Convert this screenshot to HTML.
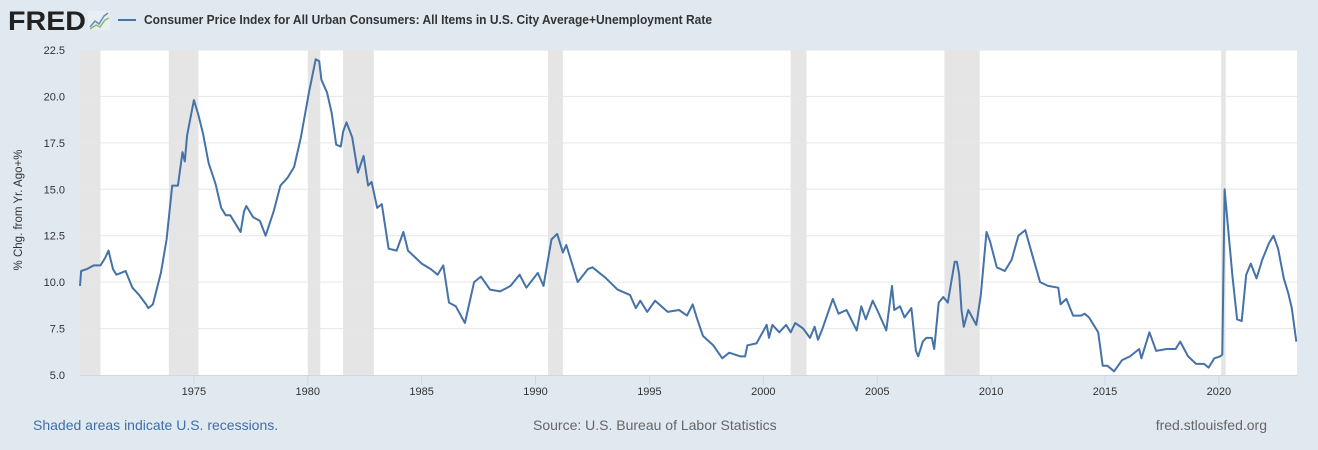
<!DOCTYPE html>
<html><head><meta charset="utf-8"><style>
html,body{margin:0;padding:0;background:#e1e9f0;}
body{width:1318px;height:450px;overflow:hidden;font-family:"Liberation Sans",Arial,sans-serif;}
</style></head><body>
<svg id="chart" width="1318" height="450" xmlns="http://www.w3.org/2000/svg" style="display:block">
  <rect width="1318" height="450" fill="#e1e9f0"/>
  <g>
    <text x="8" y="30" font-size="27" font-weight="bold" fill="#222" textLength="78" lengthAdjust="spacingAndGlyphs" font-family="Liberation Sans, sans-serif">FRED</text>
    <rect x="88" y="11" width="22" height="19" fill="#e9eef2"/>
    <polyline points="90,27 95,21 99,24 104,16 108,13" fill="none" stroke="#5b8fc7" stroke-width="1.5"/>
    <polyline points="90,29 96,25 100,27 105,20 109,18" fill="none" stroke="#8dbb6c" stroke-width="1.5"/>
  </g>
  <line x1="118" y1="20" x2="136" y2="20" stroke="#4572a7" stroke-width="2"/>
  <text x="144" y="24" font-size="12.5" fill="#333" font-weight="bold" textLength="568" lengthAdjust="spacingAndGlyphs">Consumer Price Index for All Urban Consumers: All Items in U.S. City Average+Unemployment Rate</text>
  <rect x="80" y="50" width="1217" height="325" fill="#fff"/>
  <g id="rec"></g><g id="grid"></g><g id="axes"></g><g id="series"></g>
  <text transform="translate(22,210) rotate(-90)" text-anchor="middle" font-size="11.5" fill="#333">% Chg. from Yr. Ago+%</text>
  <text x="33" y="430" font-size="14" fill="#3f6ea8">Shaded areas indicate U.S. recessions.</text>
  <text x="533" y="430" font-size="14" fill="#666">Source: U.S. Bureau of Labor Statistics</text>
  <text x="1267" y="430" font-size="14" fill="#666" text-anchor="end">fred.stlouisfed.org</text>
</svg>
<script>
const years = [1970.0,1970.05,1970.3,1970.6,1970.9,1971.1,1971.25,1971.45,1971.6,1971.8,1972.0,1972.3,1972.6,1972.9,1973.0,1973.2,1973.55,1973.8,1974.05,1974.3,1974.5,1974.6,1974.7,1975.0,1975.2,1975.4,1975.65,1975.95,1976.2,1976.4,1976.6,1977.05,1977.2,1977.3,1977.6,1977.9,1978.15,1978.5,1978.8,1979.1,1979.4,1979.7,1980.05,1980.35,1980.5,1980.6,1980.85,1981.05,1981.25,1981.45,1981.55,1981.7,1981.95,1982.2,1982.45,1982.65,1982.8,1983.05,1983.25,1983.55,1983.9,1984.2,1984.4,1985.0,1985.4,1985.7,1985.95,1986.2,1986.5,1986.9,1987.3,1987.6,1988.0,1988.45,1988.9,1989.3,1989.6,1990.1,1990.35,1990.7,1990.95,1991.2,1991.35,1991.85,1992.3,1992.5,1993.1,1993.6,1994.15,1994.4,1994.6,1994.9,1995.25,1995.8,1996.3,1996.65,1996.9,1997.1,1997.35,1997.8,1998.2,1998.5,1999.0,1999.2,1999.3,1999.7,2000.15,2000.25,2000.4,2000.7,2001.0,2001.2,2001.4,2001.75,2002.05,2002.25,2002.4,2002.6,2003.05,2003.3,2003.65,2004.1,2004.3,2004.5,2004.8,2005.0,2005.4,2005.65,2005.75,2006.0,2006.2,2006.5,2006.7,2006.8,2007.0,2007.15,2007.4,2007.5,2007.7,2007.9,2008.1,2008.4,2008.5,2008.6,2008.7,2008.8,2009.0,2009.35,2009.55,2009.8,2009.95,2010.25,2010.6,2010.9,2011.2,2011.5,2011.8,2012.15,2012.5,2012.95,2013.05,2013.3,2013.6,2013.95,2014.1,2014.3,2014.7,2014.9,2015.1,2015.4,2015.75,2016.1,2016.5,2016.6,2016.95,2017.25,2017.7,2018.1,2018.3,2018.65,2019.0,2019.35,2019.55,2019.8,2020.05,2020.15,2020.25,2020.45,2020.6,2020.8,2021.0,2021.2,2021.4,2021.65,2021.9,2022.2,2022.4,2022.6,2022.85,2023.05,2023.2,2023.4];
const values = [9.8,10.6,10.7,10.9,10.9,11.3,11.7,10.7,10.4,10.5,10.6,9.7,9.3,8.8,8.6,8.8,10.5,12.3,15.2,15.2,17.0,16.5,17.9,19.8,19.0,18.0,16.4,15.3,14.0,13.6,13.6,12.7,13.8,14.1,13.5,13.3,12.5,13.8,15.2,15.6,16.2,17.8,20.2,22.0,21.9,20.9,20.2,19.1,17.4,17.3,18.1,18.6,17.8,15.9,16.8,15.2,15.4,14.0,14.2,11.8,11.7,12.7,11.7,11.0,10.7,10.4,10.9,8.9,8.7,7.8,10.0,10.3,9.6,9.5,9.8,10.4,9.7,10.5,9.8,12.3,12.6,11.6,12.0,10.0,10.7,10.8,10.2,9.6,9.3,8.6,9.0,8.4,9.0,8.4,8.5,8.2,8.8,8.0,7.1,6.6,5.9,6.2,6.0,6.0,6.6,6.7,7.7,7.0,7.7,7.3,7.7,7.3,7.8,7.5,7.0,7.6,6.9,7.5,9.1,8.3,8.5,7.4,8.7,8.0,9.0,8.5,7.4,9.8,8.5,8.7,8.1,8.6,6.3,6.0,6.8,7.0,7.0,6.4,8.9,9.2,8.9,11.1,11.1,10.4,8.5,7.6,8.5,7.7,9.3,12.7,12.2,10.8,10.6,11.2,12.5,12.8,11.5,10.0,9.8,9.7,8.8,9.1,8.2,8.2,8.3,8.1,7.3,5.5,5.5,5.2,5.8,6.0,6.4,5.9,7.3,6.3,6.4,6.4,6.8,6.0,5.6,5.6,5.4,5.9,6.0,6.1,15.0,12.3,10.3,8.0,7.9,10.4,11.0,10.2,11.2,12.1,12.5,11.8,10.2,9.4,8.6,6.8];
const recStart = [1969.95,1973.9,1980.0,1981.55,1990.55,2001.2,2007.95,2020.1];
const recEnd   = [1970.9,1975.2,1980.55,1982.9,1991.2,2001.9,2009.5,2020.3];
const yTicks = [5.0,7.5,10.0,12.5,15.0,17.5,20.0,22.5];
const xTicks = [1975,1980,1985,1990,1995,2000,2005,2010,2015,2020];

const NS="http://www.w3.org/2000/svg";
const X0=80,X1=1297,Y0=375,Y1=50,T0=1970.0,T1=2023.43,V0=5,V1=22.5;
function xs(t){return X0+(t-T0)/(T1-T0)*(X1-X0);}
function ys(v){return Y0-(v-V0)/(V1-V0)*(Y0-Y1);}
function mk(tag,attrs,parent){const e=document.createElementNS(NS,tag);for(const k in attrs)e.setAttribute(k,attrs[k]);parent.appendChild(e);return e;}

const rec=document.getElementById('rec');
for(let i=0;i<recStart.length;i++){
  const a=Math.max(xs(recStart[i]),X0),b=xs(recEnd[i]);
  const r=mk('rect',{x:a,y:Y1,width:b-a,height:Y0-Y1,fill:'#e5e5e5'},rec);
  
  
}
const grid=document.getElementById('grid'),axes=document.getElementById('axes');
yTicks.forEach(v=>{
  if(v>V0){const l=mk('line',{x1:X0,x2:X1,y1:ys(v),y2:ys(v),stroke:'#e6e6e6','stroke-width':1},grid);
  
  }
  const t=mk('text',{x:65,y:ys(v)+4,'text-anchor':'end','font-size':11,fill:'#333'},axes);
  t.textContent=v.toFixed(1);
  
  
});
const ax=mk('line',{x1:X0,x2:X1,y1:Y0+0.5,y2:Y0+0.5,stroke:'#ccd6eb','stroke-width':1},axes);


xTicks.forEach(yr=>{
  const x=xs(yr);
  const tk=mk('line',{x1:x,x2:x,y1:Y0,y2:Y0+10,stroke:'#ccd6eb'},axes);
  
  
  const t=mk('text',{x:x,y:395,'text-anchor':'middle','font-size':11,fill:'#333'},axes);
  t.textContent=yr;
  
  
});
const pts=years.map((t,i)=>xs(t).toFixed(1)+','+ys(values[i]).toFixed(1)).join(' ');
const line=mk('polyline',{points:pts,fill:'none',stroke:'#4572a7','stroke-width':2,'stroke-linejoin':'round'},document.getElementById('series'));


</script>
</body></html>
